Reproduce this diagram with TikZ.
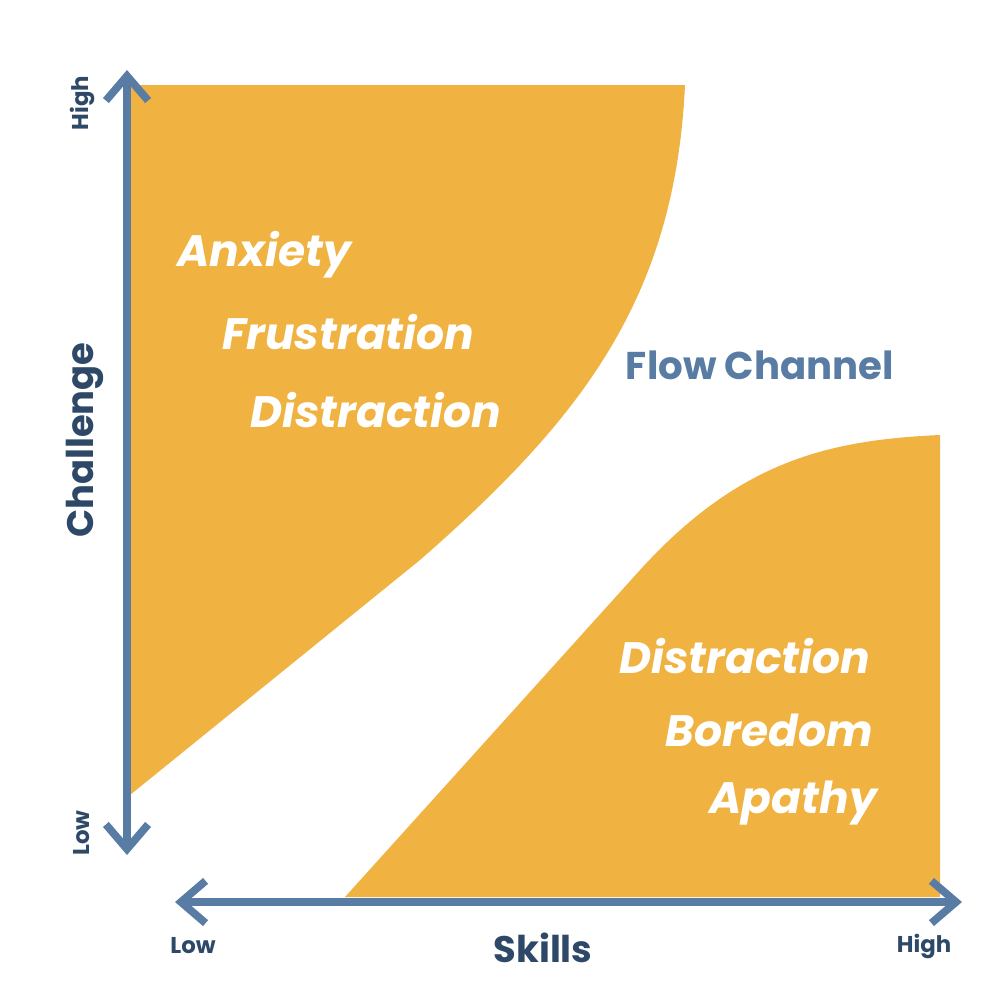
\documentclass[tikz,border=0pt]{standalone}
\usepackage{fontspec}
\setmainfont{Poppins}
\usetikzlibrary{arrows.meta}
\definecolor{zone}{HTML}{F0B240}
\definecolor{axis}{HTML}{587CA3}
\definecolor{dark}{HTML}{2E4867}
\begin{document}
\begin{tikzpicture}[x=0.01cm,y=-0.01cm,
  lab/.style={text=white,font=\fontsize{12.5}{14}\selectfont\bfseries\itshape,anchor=west},
  ax/.style={line width=2.2pt,draw=axis,{Straight Barb[length=7pt,width=12pt,line width=2.2pt]}-{Straight Barb[length=7pt,width=12pt,line width=2.2pt]}},
  small/.style={text=dark,font=\fontsize{6.5}{8}\selectfont\bfseries}]
\useasboundingbox (0,0) rectangle (1000,1000);
\fill[zone] (130,85) -- (685,85) .. controls (675,300) and (580,420) .. (420,560) -- (130,795) -- cycle;
\fill[zone] (345,897) -- (640,570) .. controls (740,460) and (830,440) .. (940,435) -- (940,897) -- cycle;
\coordinate (vt) at (127,70); \coordinate (vb) at (127,855);
\coordinate (hl) at (175,902); \coordinate (hr) at (962,902);
\draw[ax] (vb) -- (vt);
\draw[ax] (hl) -- (hr);
\node[lab] (a1) at (165,255) {Anxiety};
\node[lab] (a2) at (210,332) {Frustration};
\node[lab] (a3) at (238,410) {Distraction};
\node[lab] (b1) at (607,656) {Distraction};
\node[lab] (b2) at (653,730) {Boredom};
\node[lab] (b3) at (697,803) {Apathy};
\node[text=axis,font=\fontsize{11}{13}\selectfont\bfseries] (fc) at (760,365) {Flow Channel};
\node[text=dark,font=\fontsize{10.5}{12}\selectfont\bfseries,rotate=90] (ch) at (85,440) {Challenge};
\node[text=dark,font=\fontsize{10.5}{12}\selectfont\bfseries] (sk) at (543,948) {Skills};
\node[small,rotate=90] (hi) at (82,103) {High};
\node[small,rotate=90] (lo) at (82,833) {Low};
\node[small] (sl) at (193,946) {Low};
\node[small] (sh) at (924,946) {High};
\end{tikzpicture}
\end{document}
